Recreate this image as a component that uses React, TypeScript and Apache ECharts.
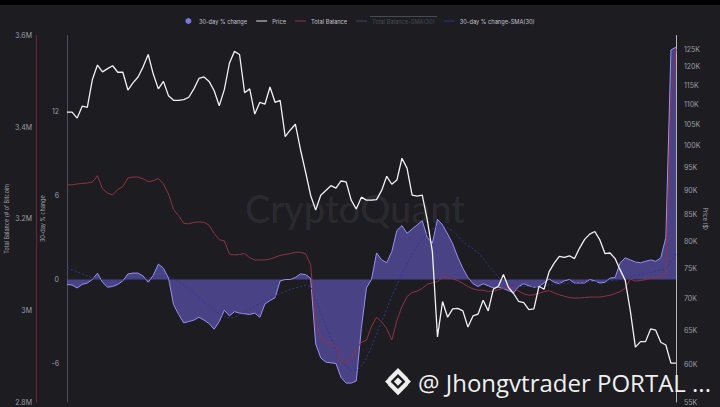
import React, { useEffect, useRef } from 'react';
import * as echarts from 'echarts';

// x categories (every 2nd day)
const categories: string[] = [];
for (let i = 0; i < 121; i++) {
  const d = new Date(Date.UTC(2025, 6, 1 + i * 2));
  categories.push(d.toISOString().slice(0, 10));
}

// BTC price, thousands of USD
const price = [
  108.0, 108.0, 106.5, 109.5, 109.2, 116.5, 120.5, 118.6, 119.5, 120.3,
  118.5, 118.5, 113.7, 115.6, 117.2, 120.0, 123.5, 118.0, 114.0, 116.0,
  112.2, 111.0, 111.0, 111.2, 111.8, 114.0, 116.8, 117.2, 116.0, 113.5,
  109.6, 113.8, 121.0, 124.4, 123.5, 113.0, 114.0, 107.5, 110.5, 110.0,
  114.5, 110.5, 111.0, 102.0, 103.6, 105.0, 99.0, 94.0, 89.0, 86.0,
  89.0, 90.0, 91.0, 90.5, 92.0, 91.8, 88.0, 86.2, 88.6, 88.0,
  88.0, 88.1, 90.0, 93.0, 91.3, 92.2, 97.0, 94.8, 89.0, 88.8,
  89.0, 84.0, 78.0, 64.0, 69.5, 67.0, 68.3, 68.4, 68.0, 65.5,
  67.2, 67.5, 69.7, 68.0, 71.5, 72.0, 74.0, 71.8, 70.8, 69.5,
  69.3, 68.2, 68.3, 72.0, 71.5, 74.5, 76.0, 77.2, 77.0, 77.3,
  76.8, 78.7, 80.3, 81.3, 81.8, 80.2, 77.7, 77.8, 76.8, 74.8,
  73.0, 68.0, 62.5, 63.3, 63.3, 65.2, 65.0, 63.2, 62.8, 60.2,
  60.2,
];

// total balance, millions of BTC
const totalBalance = [
  3.274, 3.274, 3.276, 3.277, 3.278, 3.280, 3.294, 3.265, 3.256, 3.252,
  3.264, 3.270, 3.289, 3.291, 3.291, 3.287, 3.281, 3.283, 3.288, 3.276,
  3.254, 3.220, 3.207, 3.190, 3.189, 3.192, 3.193, 3.192, 3.186, 3.168,
  3.154, 3.152, 3.123, 3.121, 3.122, 3.124, 3.115, 3.110, 3.110, 3.110,
  3.112, 3.116, 3.120, 3.122, 3.124, 3.127, 3.127, 3.124, 3.100, 2.975,
  2.940, 2.930, 2.930, 2.920, 2.890, 2.886, 2.895, 2.916, 2.930, 2.935,
  2.965, 2.985, 2.975, 2.960, 2.935, 2.978, 3.008, 3.030, 3.039, 3.042,
  3.048, 3.057, 3.060, 3.063, 3.072, 3.072, 3.069, 3.065, 3.059, 3.052,
  3.047, 3.044, 3.044, 3.041, 3.042, 3.045, 3.048, 3.050, 3.049, 3.042,
  3.036, 3.033, 3.034, 3.037, 3.041, 3.043, 3.038, 3.034, 3.031, 3.028,
  3.027, 3.027, 3.028, 3.029, 3.029, 3.029, 3.031, 3.033, 3.037, 3.041,
  3.048, 3.068, 3.064, 3.065, 3.067, 3.071, 3.071, 3.073, 3.080, 3.450,
  3.570,
];

// 30-day % change
const change30d = [
  -0.35, -0.4, -0.6, -0.35, -0.25, 0.0, 0.45, -0.2, -0.55, -0.5,
  -0.35, -0.1, 0.4, 0.46, 0.46, 0.25, -0.2, 0.3, 1.1, 0.8,
  0.1, -1.8, -2.5, -3.1, -3.0, -2.9, -2.7, -2.9, -3.15, -3.55,
  -3.0, -2.2, -2.6, -2.3, -2.4, -2.45, -2.5, -2.4, -2.7, -1.75,
  -1.5, -1.3, -0.1, 0.0, 0.0, 0.15, 0.4, 0.35, 0.1, -4.6,
  -5.6, -5.9, -5.95, -6.0, -7.0, -7.4, -7.4, -7.25, -3.5, -0.6,
  0.0, 1.9, 1.4, 1.2, 2.0, 3.5, 3.85, 3.3, 3.6, 3.9,
  4.2, 3.0, 2.6, 4.3, 3.9, 3.25, 2.55, 1.6, 0.8, 0.15,
  -0.3, -0.5, -0.3, -0.45, -0.6, -0.55, -0.65, -0.8, -0.95, -0.5,
  -0.3, -0.45, -0.55, -0.5, -0.25, 0.05, -0.2, -0.3, -0.1, 0.0,
  -0.25, -0.25, -0.25, 0.0, -0.1, -0.25, -0.2, 0.1, 0.15, 1.2,
  1.55, 1.4, 1.25, 1.2, 1.3, 1.4, 1.3, 1.55, 3.0, 16.4,
  16.6,
];

// 30-day % change, SMA(30)
const change30dSma = [
  0.8, 0.7, 0.55, 0.4, 0.25, 0.12, 0.05, 0.0, -0.05, -0.1,
  -0.1, -0.05, 0.0, 0.05, 0.1, 0.1, 0.1, 0.15, 0.2, 0.25,
  0.2, 0.05, -0.15, -0.4, -0.7, -1.0, -1.3, -1.6, -1.9, -2.2,
  -2.45, -2.65, -2.75, -2.7, -2.5, -2.3, -2.1, -1.9, -1.7, -1.5,
  -1.35, -1.2, -1.0, -0.85, -0.7, -0.6, -0.5, -0.4, -0.5, -1.4,
  -2.4, -3.3, -4.2, -5.0, -5.7, -6.2, -6.5, -6.5, -6.2, -5.6,
  -4.8, -3.9, -3.0, -2.1, -1.2, -0.4, 0.4, 1.1, 1.8, 2.4,
  2.9, 3.3, 3.6, 3.8, 3.85, 3.7, 3.45, 3.1, 2.7, 2.4,
  2.2, 1.9, 1.5, 1.0, 0.6, 0.15, -0.15, -0.35, -0.45, -0.5,
  -0.5, -0.5, -0.5, -0.5, -0.45, -0.4, -0.35, -0.3, -0.3, -0.25,
  -0.2, -0.2, -0.2, -0.15, -0.15, -0.1, -0.1, -0.1, -0.05, 0.0,
  0.1, 0.2, 0.3, 0.35, 0.45, 0.5, 0.6, 0.65, 0.75, 1.3,
  1.8,
];

// axis ticks
const priceTicks = [55, 60, 65, 70, 75, 80, 85, 90, 95, 100, 105, 110, 115, 120, 125];
const changeTicks = [-6, 0, 6, 12];

const binanceLogo =
  'M50,38L62,50L50,62L38,50Z M12,50L21,41L30,50L21,59Z M70,50L79,41L88,50L79,59Z ' +
  'M50,10L80,40L71,49L50,28L29,49L20,40Z M50,90L80,60L71,51L50,72L29,51L20,60Z';
echarts.graphic.registerShape('binanceLogo', echarts.graphic.extendPath(binanceLogo, {}));

const FONT = 'Inter, Roboto, sans-serif';
const lineIcon = 'path://M0,0L12,0L12,1L0,1Z';

const App: React.FC = () => {
  const chartRef = useRef<HTMLDivElement>(null);

  useEffect(() => {
    if (!chartRef.current) return;
    const chart = echarts.init(chartRef.current, null, { renderer: 'svg' });

    const labelStyle = { color: '#9c9ca4', fontSize: 7, fontFamily: FONT };
    const nameStyle = { color: '#a4a4ac', fontSize: 5.5, fontFamily: FONT };

    const options: echarts.EChartsOption = {
      animation: false,
      backgroundColor: '#1c1c21',
      legend: {
        top: 13,
        left: 'center',
        itemWidth: 11,
        itemHeight: 6,
        itemGap: 9,
        inactiveColor: '#4a4a52',
        textStyle: { color: '#c4c4ca', fontSize: 5.7, fontFamily: FONT },
        selected: { 'Total Balance-SMA(30)': false },
        data: [
          { name: '30-day % change', icon: 'circle' },
          { name: 'Price', icon: lineIcon },
          { name: 'Total Balance', icon: lineIcon },
          { name: 'Total Balance-SMA(30)', icon: lineIcon },
          { name: '30-day % change-SMA(30)', icon: lineIcon },
        ],
      },
      grid: { left: 67, right: 44, top: 35.5, bottom: 5, outerBoundsMode: 'none' },
      xAxis: {
        type: 'category',
        data: categories,
        boundaryGap: false,
        axisLine: { show: false },
        axisTick: { show: false },
        axisLabel: { show: false },
        splitLine: { show: false },
      },
      yAxis: [
        {
          type: 'value',
          position: 'left',
          offset: 31,
          min: 2.8,
          max: 3.6,
          interval: 0.2,
          name: 'Total Balance (# of Bitcoin)',
          nameLocation: 'middle',
          nameGap: 26,
          nameMoveOverlap: false,
          nameTextStyle: nameStyle,
          axisLine: { show: true, lineStyle: { color: '#6e2634', width: 1 } },
          axisTick: { show: false },
          axisLabel: { ...labelStyle, margin: 4, formatter: (v: number) => `${+v.toFixed(1)}M` },
          splitLine: { show: false },
        },
        {
          type: 'value',
          position: 'left',
          min: -8.75,
          max: 17.43,
          name: '30-day % change',
          nameLocation: 'middle',
          nameGap: 21,
          nameMoveOverlap: false,
          nameTextStyle: nameStyle,
          axisLine: { show: true, lineStyle: { color: '#4e4e56', width: 1 } },
          axisTick: { show: false },
          axisLabel: { ...labelStyle, margin: 8, customValues: changeTicks, formatter: (v: number) => `${v}` },
          splitLine: { show: false },
        },
        {
          type: 'value',
          position: 'right',
          min: Math.log10(55),
          max: 2.110864,
          name: 'Price ($)',
          nameLocation: 'middle',
          nameGap: 26,
          nameRotate: -90,
          nameMoveOverlap: false,
          nameTextStyle: nameStyle,
          axisLine: { show: true, lineStyle: { color: '#b4b4ba', width: 1 } },
          axisTick: { show: false },
          axisLabel: {
            ...labelStyle,
            margin: 8,
            customValues: priceTicks.map((t) => Math.log10(t)),
            formatter: (v: number) => `${Math.round(Math.pow(10, v))}K`,
          },
          splitLine: { show: false },
        },
      ],
      series: [
        {
          name: '30-day % change',
          type: 'line',
          yAxisIndex: 1,
          data: change30d,
          showSymbol: false,
          itemStyle: { color: '#7d72e6' },
          lineStyle: { color: '#9a90f2', width: 1 },
          areaStyle: { color: 'rgba(106, 96, 208, 0.82)', origin: 0 },
          z: 1,
        },
        {
          name: '30-day % change-SMA(30)',
          type: 'line',
          yAxisIndex: 1,
          data: change30dSma,
          showSymbol: false,
          itemStyle: { color: '#36368e' },
          lineStyle: { color: '#36368e', width: 1, type: [2, 2] },
          z: 2,
        },
        {
          name: 'Total Balance-SMA(30)',
          type: 'line',
          yAxisIndex: 0,
          data: [],
          showSymbol: false,
          itemStyle: { color: '#5a5a62' },
          z: 2,
        },
        {
          name: 'Total Balance',
          type: 'line',
          yAxisIndex: 0,
          data: totalBalance,
          showSymbol: false,
          itemStyle: { color: '#8e3447' },
          lineStyle: { color: '#8e3447', width: 1 },
          z: 3,
        },
        {
          name: 'Price',
          type: 'line',
          yAxisIndex: 2,
          data: price.map((p) => Math.log10(p)),
          showSymbol: false,
          itemStyle: { color: '#f2f2f4' },
          lineStyle: { color: '#f2f2f4', width: 1.3 },
          z: 4,
        },
      ],
      graphic: [
        { type: 'rect', left: 0, top: 0, shape: { width: 720, height: 5 }, style: { fill: '#000' }, z: 100 },
        {
          type: 'line',
          shape: { x1: 370, y1: 16.5, x2: 437, y2: 16.5 },
          style: { stroke: '#55555d', lineWidth: 0.8 },
          z: 100,
        },
        {
          type: 'text',
          x: 355,
          y: 208,
          style: {
            text: 'CryptoQuant',
            fill: 'rgba(255,255,255,0.08)',
            fontSize: 38,
            fontWeight: 500,
            fontFamily: 'Lato, sans-serif',
            align: 'center',
            verticalAlign: 'middle',
          },
          z: 0,
        },
        {
          type: 'binanceLogo',
          x: 381,
          y: 364.6,
          scaleX: 0.34,
          scaleY: 0.34,
          style: { fill: '#eeeeee' },
          z: 100,
        },
        {
          type: 'text',
          x: 418,
          y: 382,
          style: {
            text: '@ Jhongvtrader PORTAL ...',
            fill: '#f0f0f0',
            fontSize: 24,
            fontFamily: '"Open Sans", sans-serif',
            verticalAlign: 'middle',
          },
          z: 100,
        },
      ],
    };

    chart.setOption(options);
    return () => {
      chart.dispose();
    };
  }, []);

  return (
    <div
      ref={chartRef}
      style={{ position: 'fixed', left: 0, top: 0, width: 720, height: 407 }}
    />
  );
};

export default App;
